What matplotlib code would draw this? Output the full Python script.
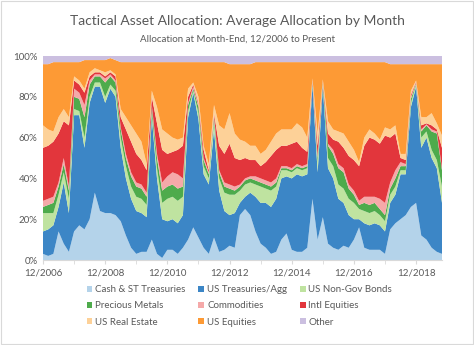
import numpy as np
import matplotlib
matplotlib.use("Agg")
from matplotlib import pyplot as plt
from matplotlib.patches import Patch, Rectangle

# months since 12/2006, sampled every second month
months = np.arange(0, 156, 2)

cash = [3, 2, 3, 14, 8, 4, 14, 17, 15, 20, 33, 24, 23, 23, 22, 19, 12, 6, 3, 4,
        4, 10, 3, 1, 5, 5, 3, 6, 10, 16, 11, 6, 3, 11, 4, 5, 7, 6, 22, 25,
        22, 14, 8, 6, 3, 4, 10, 13, 5, 4, 4, 6, 30, 10, 21, 8, 6, 5, 7, 6,
        10, 16, 6, 5, 5, 5, 3, 15, 18, 20, 22, 26, 28, 12, 10, 6, 4, 3]
treasuries = [11, 13, 14, 12, 30, 19, 57, 54, 40, 57, 52, 61, 54, 61, 58, 36, 28, 24, 21, 19,
              17, 60, 37, 19, 14, 15, 15, 16, 60, 66, 58, 36, 34, 53, 30, 19, 15, 17, 6, 6,
              11, 17, 20, 22, 23, 26, 30, 28, 35, 38, 37, 36, 56, 33, 64, 37, 34, 25, 21, 16,
              10, 4, 12, 12, 13, 12, 11, 13, 14, 22, 20, 49, 57, 43, 50, 44, 41, 25]
non_gov = [9, 8, 6, 6, 5, 7, 3, 2, 5, 3, 2, 2, 3, 2, 3, 5, 6, 6, 7, 7,
           6, 2, 5, 8, 11, 11, 11, 9, 3, 1, 3, 4, 3, 4, 6, 9, 10, 9, 6, 6,
           5, 6, 8, 7, 8, 6, 4, 3, 3, 3, 3, 3, 1, 5, 1, 5, 6, 7, 7, 8,
           8, 5, 6, 6, 6, 5, 5, 4, 4, 2, 2, 2, 1, 5, 3, 4, 4, 8]
metals = [3, 4, 5, 4, 4, 4, 6, 6, 10, 6, 3, 3, 7, 4, 4, 4, 4, 5, 5, 5,
          4, 3, 5, 6, 6, 6, 6, 5, 3, 1, 3, 3, 2, 2, 3, 3, 3, 2, 2, 2,
          2, 2, 2, 2, 2, 2, 1, 1, 1, 1, 1, 1, 0.5, 2, 1, 6, 6, 8, 8, 5,
          4, 2, 4, 4, 4, 3, 3, 3, 4, 2, 2, 2, 0.5, 3, 3, 9, 13, 8]
commodities = [3, 3, 3, 2, 3, 2, 4, 3, 6, 2, 1, 1, 2, 1, 1, 1, 2, 2, 2, 2,
               2, 1, 2, 4, 5, 6, 7, 4, 1, 1, 1, 1, 1, 1, 1, 2, 2, 2, 1, 1,
               1, 2, 2, 2, 2, 2, 1, 1, 1, 1, 1, 1, 0.5, 1, 0.5, 1, 2, 2, 2, 2,
               2, 2, 3, 4, 3, 5, 6, 3, 4, 2, 1, 1, 0.5, 1, 0.5, 1, 1, 1]
intl_eq = [26, 26, 27, 24, 18, 30, 4, 4, 6, 2, 1, 1, 1, 1, 2, 5, 12, 15, 14, 12,
           11, 4, 15, 16, 11, 10, 12, 16, 3, 1, 1, 4, 1, 1, 12, 14, 20, 14, 12, 10,
           8, 8, 6, 9, 13, 14, 10, 10, 12, 11, 9, 6, 0.5, 5, 0.5, 5, 5, 11, 10, 14,
           15, 17, 25, 29, 28, 27, 33, 22, 18, 2, 2, 1, 0.5, 2, 0.5, 2, 1, 10]
real_estate = [11, 8, 5, 8, 6, 4, 2, 2, 2, 2, 2, 1, 2, 1, 1, 4, 6, 8, 10, 9,
               3, 3, 8, 10, 10, 7, 5, 4, 4, 1, 3, 2, 3, 4, 10, 12, 15, 12, 10, 8,
               7, 7, 6, 6, 7, 8, 8, 8, 7, 9, 10, 7, 0.5, 6, 0.5, 6, 5, 5, 7, 7,
               5, 2, 4, 4, 3, 2, 4, 4, 4, 2, 3, 2, 0.5, 4, 3, 6, 3, 6]
us_eq = [30, 32, 34, 27, 23, 27, 7, 9, 14, 6, 4, 5, 6, 6, 7, 23, 27, 31, 35, 39,
         50, 14, 22, 33, 35, 37, 38, 37, 13, 10, 17, 41, 50, 21, 31, 33, 24, 34, 37, 38,
         40, 41, 45, 43, 39, 35, 33, 33, 33, 30, 32, 37, 8, 35, 8.5, 29, 33, 34, 35, 39,
         43, 49, 37, 33, 35, 38, 32, 32, 30, 44, 44, 13, 8, 26, 26, 24, 29, 35]
other = [4, 4, 3, 3, 3, 3, 3, 3, 2, 2, 2, 2, 2, 1, 2, 3, 3, 3, 3, 3,
         3, 3, 3, 3, 3, 3, 3, 3, 3, 3, 3, 3, 3, 3, 3, 3, 4, 4, 4, 4,
         4, 3, 3, 3, 3, 3, 3, 3, 3, 3, 3, 3, 3, 3, 3, 3, 3, 3, 3, 3,
         3, 3, 3, 3, 3, 3, 3, 4, 4, 4, 4, 4, 4, 4, 4, 4, 4, 4]

labels = ["Cash & ST Treasuries", "US Treasuries/Agg", "US Non-Gov Bonds",
          "Precious Metals", "Commodities", "Intl Equities",
          "US Real Estate", "US Equities", "Other"]
colors = ["#b4d3ea", "#3c86c6", "#bfe3a0", "#4eab4c", "#f5a9a9",
          "#e2363c", "#fdd198", "#fd9a35", "#cbbfe0"]

tick_months = [0, 24, 48, 72, 96, 120, 144]
tick_labels = ["12/2006", "12/2008", "12/2010", "12/2012", "12/2014", "12/2016", "12/2018"]

plt.rcParams['font.family'] = ['Lato', 'DejaVu Sans']
grey = "#595959"

fig = plt.figure(figsize=(4.74, 3.45), dpi=100)
ax = fig.add_axes([43 / 474, 1 - 260 / 345, 399 / 474, 204 / 345])

series = [cash, treasuries, non_gov, metals, commodities, intl_eq, real_estate, us_eq, other]
ax.stackplot(months, series, colors=colors, linewidth=0)

ax.set_xlim(0, 154)
ax.set_ylim(0, 100)
ax.set_yticks([0, 20, 40, 60, 80, 100])
ax.set_yticklabels([f"{v}%" for v in [0, 20, 40, 60, 80, 100]])
ax.set_xticks(tick_months)
ax.set_xticklabels(tick_labels)
ax.set_xticks(np.arange(12, 156, 24), minor=True)
ax.tick_params(axis="y", length=0, labelsize=7, colors=grey, pad=4)
ax.tick_params(axis="x", which="both", length=3, color="#d9d9d9", labelsize=7,
               labelcolor=grey, pad=3)
for s in ["top", "right", "left"]:
    ax.spines[s].set_visible(False)
ax.spines["bottom"].set_color("#d9d9d9")

fig.text(0.5, 1 - 21 / 345, "Tactical Asset Allocation: Average Allocation by Month",
         ha="center", va="center", fontsize=10, color=grey)
fig.text(0.5, 1 - 39 / 345, "Allocation at Month-End, 12/2006 to Present",
         ha="center", va="center", fontsize=7, color=grey)

# legend: rows read across, matplotlib fills by column
handles = [Patch(facecolor=c, edgecolor="none") for c in colors]
order = [0, 3, 6, 1, 4, 7, 2, 5, 8]
fig.legend([handles[i] for i in order], [labels[i] for i in order],
           ncol=3, loc="center", bbox_to_anchor=(0.505, 1 - 306 / 345),
           frameon=False, fontsize=7, handlelength=0.6, handleheight=0.6,
           handletextpad=0.3, columnspacing=1.3, labelspacing=0.75,
           labelcolor=grey)

fig.patches.append(Rectangle((0.003, 0.003), 0.994, 0.994, transform=fig.transFigure,
                             fill=False, edgecolor="#d9d9d9", linewidth=0.8))

fig.savefig("out.png", dpi=100)
